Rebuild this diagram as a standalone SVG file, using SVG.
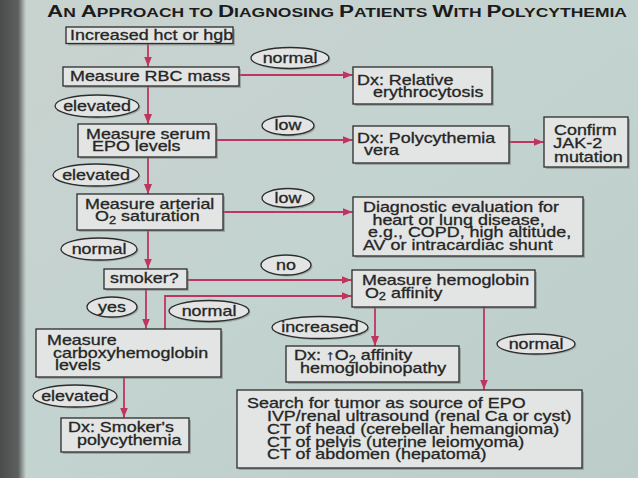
<svg xmlns="http://www.w3.org/2000/svg" width="638" height="478" viewBox="0 0 638 478">
<defs>
<linearGradient id="page" x1="0" y1="0" x2="1" y2="1">
<stop offset="0" stop-color="#c9d2cf"/>
<stop offset="0.5" stop-color="#c3d3cf"/>
<stop offset="1" stop-color="#bccdc9"/>
</linearGradient>
<linearGradient id="edge" x1="0" y1="0" x2="1" y2="0">
<stop offset="0" stop-color="#4a4d4b"/>
<stop offset="0.7" stop-color="#5d605e"/>
<stop offset="1" stop-color="#5d605e" stop-opacity="0"/>
</linearGradient>
<marker id="ah" markerUnits="userSpaceOnUse" markerWidth="10" markerHeight="8" refX="10" refY="4" orient="auto">
<path d="M0,0 L10,4 L0,8 z" fill="#bf3560"/>
</marker>
<style>
.bx{fill:#e2e5e3;stroke:#2c2c2c;stroke-width:1.3}
.sh{fill:#7b8482;opacity:0.55}
.pl{fill:#e2e5e3;stroke:#2c2c2c;stroke-width:1.3}
.t{font-family:"Liberation Sans",Arial,sans-serif;font-size:14px;fill:#262626;stroke:#262626;stroke-width:0.3}
.lb{font-family:"Liberation Sans",Arial,sans-serif;font-size:14px;fill:#262626;stroke:#262626;stroke-width:0.3;text-anchor:middle}
.sub{font-size:10px}
.c{fill:none;stroke:#bf3560;stroke-width:1.8;marker-end:url(#ah)}
.ti{font-family:"Liberation Sans",Arial,sans-serif;font-weight:bold;fill:#1c1c1c}
</style>
</defs>
<rect x="0" y="0" width="638" height="478" fill="url(#page)"/>
<rect x="0" y="0" width="26" height="478" fill="url(#edge)"/>

<text class="ti" x="47" y="17" textLength="580" lengthAdjust="spacingAndGlyphs"><tspan font-size="16">A</tspan><tspan font-size="12.5">N </tspan><tspan font-size="16">A</tspan><tspan font-size="12.5">PPROACH TO </tspan><tspan font-size="16">D</tspan><tspan font-size="12.5">IAGNOSING </tspan><tspan font-size="16">P</tspan><tspan font-size="12.5">ATIENTS </tspan><tspan font-size="16">W</tspan><tspan font-size="12.5">ITH </tspan><tspan font-size="16">P</tspan><tspan font-size="12.5">OLYCYTHEMIA</tspan></text>

<g id="connectors">
<path class="c" d="M148,44 V66.5"/>
<path class="c" d="M239,75 H352.5"/>
<path class="c" d="M148,86 V124"/>
<path class="c" d="M216,140 H352.5"/>
<path class="c" d="M509,142 H543.5"/>
<path class="c" d="M148,157 V194"/>
<path class="c" d="M223,212 H352.5"/>
<path class="c" d="M148,230 V268.5"/>
<path class="c" d="M187,280 H351.5"/>
<path class="c" d="M146,289 V328.5"/>
<path class="c" d="M165,329 V296 H351.5"/>
<path class="c" d="M375,307 V346"/>
<path class="c" d="M484,307 V389.5"/>
<path class="c" d="M124,377 V417.5"/>
</g>

<g id="labels">
<g id="lbl-normal1"><ellipse cx="291.5" cy="59.5" rx="39" ry="10.5" class="sh"/><ellipse cx="290" cy="58" rx="39" ry="10.5" class="pl"/><text class="lb" transform="translate(290,62.5) scale(1.28,1)">normal</text></g>
<g id="lbl-elevated1"><ellipse cx="98.5" cy="107.5" rx="42" ry="11" class="sh"/><ellipse cx="97" cy="106" rx="42" ry="11" class="pl"/><text class="lb" transform="translate(97,110.5) scale(1.28,1)">elevated</text></g>
<g id="lbl-low1"><ellipse cx="289.5" cy="127" rx="26" ry="9.5" class="sh"/><ellipse cx="288" cy="125.5" rx="26" ry="9.5" class="pl"/><text class="lb" transform="translate(288,130) scale(1.28,1)">low</text></g>
<g id="lbl-elevated2"><ellipse cx="97.5" cy="176.5" rx="43" ry="11" class="sh"/><ellipse cx="96" cy="175" rx="43" ry="11" class="pl"/><text class="lb" transform="translate(96,179.5) scale(1.28,1)">elevated</text></g>
<g id="lbl-low2"><ellipse cx="289.5" cy="199.5" rx="26" ry="9.5" class="sh"/><ellipse cx="288" cy="198" rx="26" ry="9.5" class="pl"/><text class="lb" transform="translate(288,202.5) scale(1.28,1)">low</text></g>
<g id="lbl-normal2"><ellipse cx="100.5" cy="250.5" rx="38" ry="11" class="sh"/><ellipse cx="99" cy="249" rx="38" ry="11" class="pl"/><text class="lb" transform="translate(99,253.5) scale(1.28,1)">normal</text></g>
<g id="lbl-no"><ellipse cx="287.5" cy="266.5" rx="25" ry="10" class="sh"/><ellipse cx="286" cy="265" rx="25" ry="10" class="pl"/><text class="lb" transform="translate(286,269.5) scale(1.28,1)">no</text></g>
<g id="lbl-yes"><ellipse cx="113.5" cy="308.5" rx="25" ry="10" class="sh"/><ellipse cx="112" cy="307" rx="25" ry="10" class="pl"/><text class="lb" transform="translate(112,311.5) scale(1.28,1)">yes</text></g>
<g id="lbl-normal3"><ellipse cx="210.5" cy="312.5" rx="40" ry="10.5" class="sh"/><ellipse cx="209" cy="311" rx="40" ry="10.5" class="pl"/><text class="lb" transform="translate(209,315.5) scale(1.28,1)">normal</text></g>
<g id="lbl-increased"><ellipse cx="321.5" cy="329" rx="48" ry="11" class="sh"/><ellipse cx="320" cy="327.5" rx="48" ry="11" class="pl"/><text class="lb" transform="translate(320,332) scale(1.28,1)">increased</text></g>
<g id="lbl-normal4"><ellipse cx="537.5" cy="345.5" rx="39" ry="10" class="sh"/><ellipse cx="536" cy="344" rx="39" ry="10" class="pl"/><text class="lb" transform="translate(536,348.5) scale(1.28,1)">normal</text></g>
<g id="lbl-elevated3"><ellipse cx="76.5" cy="397.5" rx="42" ry="11" class="sh"/><ellipse cx="75" cy="396" rx="42" ry="11" class="pl"/><text class="lb" transform="translate(75,400.5) scale(1.28,1)">elevated</text></g>
</g>

<g id="n-increased">
<rect x="68" y="29" width="167" height="16.5" class="sh"/>
<rect x="66" y="27" width="167" height="16.5" class="bx"/>
<text class="t" transform="translate(70,40) scale(1.28,1)">Increased hct or hgb</text>
</g>
<g id="n-rbc">
<rect x="65" y="69" width="176" height="19" class="sh"/>
<rect x="63" y="67" width="176" height="19" class="bx"/>
<text class="t" transform="translate(70,81) scale(1.28,1)">Measure RBC mass</text>
</g>
<g id="n-epo">
<rect x="80" y="126" width="138" height="33" class="sh"/>
<rect x="78" y="124" width="138" height="33" class="bx"/>
<text class="t" transform="translate(86,139) scale(1.28,1)"><tspan x="0" y="0">Measure serum</tspan><tspan x="4.7" y="12">EPO levels</tspan></text>
</g>
<g id="n-relative">
<rect x="355" y="69" width="139" height="37" class="sh"/>
<rect x="353" y="67" width="139" height="37" class="bx"/>
<text class="t" transform="translate(357,84.5) scale(1.28,1)"><tspan x="0" y="0">Dx: Relative</tspan><tspan x="12.5" y="12.5">erythrocytosis</tspan></text>
</g>
<g id="n-pv">
<rect x="355" y="128" width="156" height="37" class="sh"/>
<rect x="353" y="126" width="156" height="37" class="bx"/>
<text class="t" transform="translate(357,143) scale(1.28,1)"><tspan x="0" y="0">Dx: Polycythemia</tspan><tspan x="5.5" y="12">vera</tspan></text>
</g>
<g id="n-jak2">
<rect x="546" y="119" width="84" height="50" class="sh"/>
<rect x="544" y="117" width="84" height="50" class="bx"/>
<text class="t" transform="translate(554,135) scale(1.28,1)"><tspan x="0" y="0">Confirm</tspan><tspan x="-0.5" y="13.5">JAK-2</tspan><tspan x="0" y="27">mutation</tspan></text>
</g>
<g id="n-arterial">
<rect x="79" y="196" width="146" height="36" class="sh"/>
<rect x="77" y="194" width="146" height="36" class="bx"/>
<text class="t" transform="translate(85,208.5) scale(1.28,1)"><tspan x="0" y="0">Measure arterial</tspan><tspan x="7.8" y="12.5">O</tspan><tspan class="sub" dy="3">2</tspan><tspan dy="-3"> saturation</tspan></text>
</g>
<g id="n-diagnostic">
<rect x="355" y="199" width="230" height="59" class="sh"/>
<rect x="353" y="197" width="230" height="59" class="bx"/>
<text class="t" transform="translate(363,211.5) scale(1.28,1)"><tspan x="0" y="0">Diagnostic evaluation for</tspan><tspan x="7.4" y="13.2">heart or lung disease,</tspan><tspan x="4" y="26">e.g., COPD, high altitude,</tspan><tspan x="0" y="39">AV or intracardiac shunt</tspan></text>
</g>
<g id="n-smoker">
<rect x="106" y="271" width="83" height="20" class="sh"/>
<rect x="104" y="269" width="83" height="20" class="bx"/>
<text class="t" transform="translate(110,283) scale(1.28,1)">smoker?</text>
</g>
<g id="n-affinity">
<rect x="354" y="272" width="183" height="37" class="sh"/>
<rect x="352" y="270" width="183" height="37" class="bx"/>
<text class="t" transform="translate(362,285) scale(1.28,1)"><tspan x="0" y="0">Measure hemoglobin</tspan><tspan x="2.3" y="12.5">O</tspan><tspan class="sub" dy="3">2</tspan><tspan dy="-3"> affinity</tspan></text>
</g>
<g id="n-carboxy">
<rect x="38" y="331" width="185" height="48" class="sh"/>
<rect x="36" y="329" width="185" height="48" class="bx"/>
<text class="t" transform="translate(47,345) scale(1.28,1)"><tspan x="0" y="0">Measure</tspan><tspan x="4.7" y="12.5">carboxyhemoglobin</tspan><tspan x="6.2" y="25">levels</tspan></text>
</g>
<g id="n-hemoglobinopathy">
<rect x="288" y="348" width="173" height="36" class="sh"/>
<rect x="286" y="346" width="173" height="36" class="bx"/>
<text class="t" transform="translate(294,359.5) scale(1.28,1)"><tspan x="0" y="0">Dx: ↑O</tspan><tspan class="sub" dy="3">2</tspan><tspan dy="-3"> affinity</tspan><tspan x="4.7" y="13.5">hemoglobinopathy</tspan></text>
</g>
<g id="n-smokers">
<rect x="63" y="420" width="128" height="34" class="sh"/>
<rect x="61" y="418" width="128" height="34" class="bx"/>
<text class="t" transform="translate(68,432) scale(1.28,1)"><tspan x="0" y="0">Dx: Smoker's</tspan><tspan x="7" y="13">polycythemia</tspan></text>
</g>
<g id="n-tumor">
<rect x="239" y="392" width="345" height="78" class="sh"/>
<rect x="237" y="390" width="345" height="78" class="bx"/>
<text class="t" transform="translate(247,407.5) scale(1.28,1)"><tspan x="0" y="0">Search for tumor as source of EPO</tspan><tspan x="15.6" y="13.2">IVP/renal ultrasound (renal Ca or cyst)</tspan><tspan x="15.6" y="26.5">CT of head (cerebellar hemangioma)</tspan><tspan x="15.6" y="39.2">CT of pelvis (uterine leiomyoma)</tspan><tspan x="15.6" y="51.8">CT of abdomen (hepatoma)</tspan></text>
</g>
</svg>
